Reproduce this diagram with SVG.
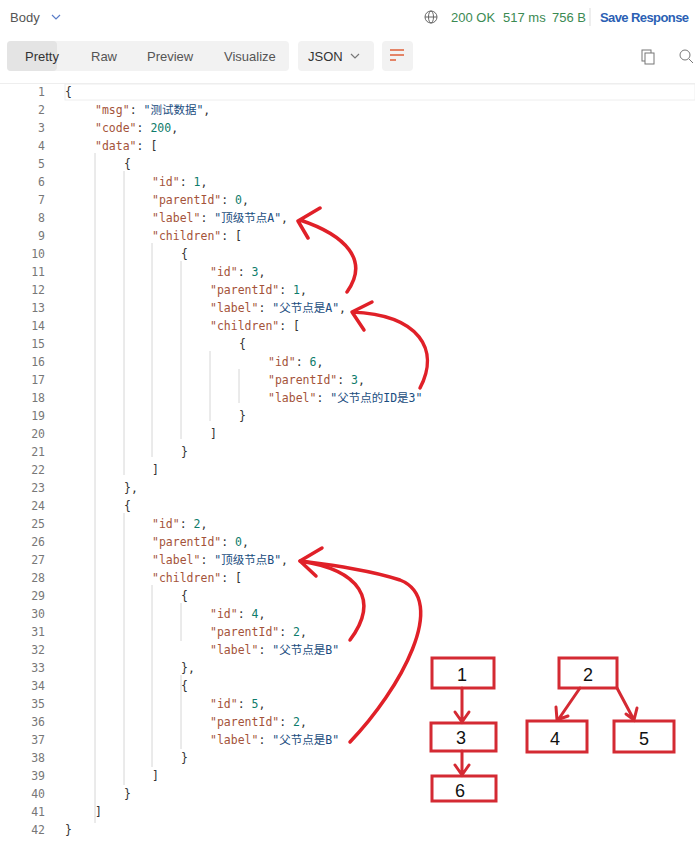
<svg xmlns="http://www.w3.org/2000/svg" width="695" height="850" viewBox="0 0 695 850">
<style>
.ui{font-family:"Liberation Sans","Noto Sans",sans-serif;font-size:13px;fill:#555}
.c{font-family:"DejaVu Sans Mono","Noto Sans CJK SC",monospace;font-size:11.5px;fill:#333}
.ln{font-family:"DejaVu Sans Mono",monospace;font-size:11.5px;fill:#777;text-anchor:end}
.k{fill:#a4533a}.s{fill:#1a4d80}.n{fill:#0e7c6b}
.g{stroke:#d6d6d6;stroke-width:1}
.box rect{fill:none;stroke:#d42a33;stroke-width:3}
.box text{font-family:"Liberation Sans",sans-serif;font-size:18px;fill:#111;text-anchor:middle}
.ar{fill:none;stroke:#e02028;stroke-width:3.5;stroke-linecap:round;stroke-linejoin:round}
.ar2{fill:none;stroke:#d42a33;stroke-width:3;stroke-linecap:round}
</style>
<rect width="695" height="850" fill="#fff"/>
<g id="toolbar">
<text class="ui" x="10" y="22" font-size="12">Body</text>
<path d="M52 15l4 4 4-4" fill="none" stroke="#5a7dc8" stroke-width="1.2"/>
<circle cx="431" cy="17" r="6" fill="none" stroke="#666"/><ellipse cx="431" cy="17" rx="2.5" ry="6" fill="none" stroke="#666"/><line x1="425" y1="17" x2="437" y2="17" stroke="#666"/>
<text class="ui" x="451" y="22" font-size="12" style="fill:#3b8a52">200 OK</text>
<text class="ui" x="503" y="22" font-size="12" style="fill:#3b8a52">517 ms</text>
<text class="ui" x="552" y="22" font-size="12" style="fill:#3b8a52">756 B</text>
<line x1="590" y1="8" x2="590" y2="26" stroke="#ddd"/>
<text class="ui" x="600" y="22" font-size="12" font-weight="bold" textLength="89" style="fill:#2b5fb4">Save Response</text>
<rect x="7" y="41" width="282" height="30" rx="4" fill="#f2f2f2"/>
<rect x="7" y="41" width="50" height="30" rx="4" fill="#e4e4e4"/>
<text class="ui" x="25" y="61" style="fill:#333">Pretty</text>
<text class="ui" x="91" y="61">Raw</text>
<text class="ui" x="147" y="61">Preview</text>
<text class="ui" x="224" y="61">Visualize</text>
<rect x="298" y="41" width="76" height="30" rx="4" fill="#f2f2f2"/>
<text class="ui" x="308" y="61" font-size="11.5" style="fill:#333">JSON</text>
<path d="M351 54l4 4 4-4" fill="none" stroke="#777" stroke-width="1.2"/>
<rect x="382" y="41" width="31" height="30" rx="4" fill="#f2f2f2"/>
<path d="M390 50h14M390 55h14M390 60h6" stroke="#e0603a" stroke-width="1.3" fill="none"/>
<rect x="642" y="50" width="9" height="11" fill="none" stroke="#777"/><rect x="645" y="53" width="9" height="11" fill="#fff" stroke="#777"/>
<circle cx="685" cy="55" r="5" fill="none" stroke="#777"/><line x1="689" y1="59" x2="693" y2="63" stroke="#777"/>
</g>
<g id="code">
<rect x="0" y="83" width="695" height="1" fill="#eee"/>
<rect x="65" y="84" width="630" height="16" fill="#fff" stroke="#eee"/>
<g class="g">
<line x1="95" y1="153" x2="95" y2="823"/>
<line x1="124" y1="171" x2="124" y2="475"/>
<line x1="124" y1="513" x2="124" y2="785"/>
<line x1="152" y1="243" x2="152" y2="457"/>
<line x1="152" y1="585" x2="152" y2="767"/>
<line x1="181" y1="261" x2="181" y2="439"/>
<line x1="210" y1="351" x2="210" y2="421"/>
<line x1="239" y1="369" x2="239" y2="403"/>
<line x1="181" y1="603" x2="181" y2="641"/>
<line x1="181" y1="675" x2="181" y2="749"/>
</g>
<g class="ln">
<text x="45" y="96">1</text><text x="45" y="114">2</text><text x="45" y="132">3</text><text x="45" y="150">4</text><text x="45" y="168">5</text><text x="45" y="186">6</text><text x="45" y="204">7</text><text x="45" y="222">8</text><text x="45" y="240">9</text><text x="45" y="258">10</text><text x="45" y="276">11</text><text x="45" y="294">12</text><text x="45" y="312">13</text><text x="45" y="330">14</text><text x="45" y="348">15</text><text x="45" y="366">16</text><text x="45" y="384">17</text><text x="45" y="402">18</text><text x="45" y="420">19</text><text x="45" y="438">20</text><text x="45" y="456">21</text><text x="45" y="474">22</text><text x="45" y="492">23</text><text x="45" y="510">24</text><text x="45" y="528">25</text><text x="45" y="546">26</text><text x="45" y="564">27</text><text x="45" y="582">28</text><text x="45" y="600">29</text><text x="45" y="618">30</text><text x="45" y="636">31</text><text x="45" y="654">32</text><text x="45" y="672">33</text><text x="45" y="690">34</text><text x="45" y="708">35</text><text x="45" y="726">36</text><text x="45" y="744">37</text><text x="45" y="762">38</text><text x="45" y="780">39</text><text x="45" y="798">40</text><text x="45" y="816">41</text><text x="45" y="834">42</text>
</g>
<g class="c">
<text x="65" y="96">{</text>
<text x="95" y="114"><tspan class="k">"msg"</tspan>: <tspan class="s">"测试数据"</tspan>,</text>
<text x="95" y="132"><tspan class="k">"code"</tspan>: <tspan class="n">200</tspan>,</text>
<text x="95" y="150"><tspan class="k">"data"</tspan>: [</text>
<text x="124" y="168">{</text>
<text x="152" y="186"><tspan class="k">"id"</tspan>: <tspan class="n">1</tspan>,</text>
<text x="152" y="204"><tspan class="k">"parentId"</tspan>: <tspan class="n">0</tspan>,</text>
<text x="152" y="222"><tspan class="k">"label"</tspan>: <tspan class="s">"顶级节点A"</tspan>,</text>
<text x="152" y="240"><tspan class="k">"children"</tspan>: [</text>
<text x="181" y="258">{</text>
<text x="210" y="276"><tspan class="k">"id"</tspan>: <tspan class="n">3</tspan>,</text>
<text x="210" y="294"><tspan class="k">"parentId"</tspan>: <tspan class="n">1</tspan>,</text>
<text x="210" y="312"><tspan class="k">"label"</tspan>: <tspan class="s">"父节点是A"</tspan>,</text>
<text x="210" y="330"><tspan class="k">"children"</tspan>: [</text>
<text x="239" y="348">{</text>
<text x="268" y="366"><tspan class="k">"id"</tspan>: <tspan class="n">6</tspan>,</text>
<text x="268" y="384"><tspan class="k">"parentId"</tspan>: <tspan class="n">3</tspan>,</text>
<text x="268" y="402"><tspan class="k">"label"</tspan>: <tspan class="s">"父节点的ID是3"</tspan></text>
<text x="239" y="420">}</text>
<text x="210" y="438">]</text>
<text x="181" y="456">}</text>
<text x="152" y="474">]</text>
<text x="124" y="492">},</text>
<text x="124" y="510">{</text>
<text x="152" y="528"><tspan class="k">"id"</tspan>: <tspan class="n">2</tspan>,</text>
<text x="152" y="546"><tspan class="k">"parentId"</tspan>: <tspan class="n">0</tspan>,</text>
<text x="152" y="564"><tspan class="k">"label"</tspan>: <tspan class="s">"顶级节点B"</tspan>,</text>
<text x="152" y="582"><tspan class="k">"children"</tspan>: [</text>
<text x="181" y="600">{</text>
<text x="210" y="618"><tspan class="k">"id"</tspan>: <tspan class="n">4</tspan>,</text>
<text x="210" y="636"><tspan class="k">"parentId"</tspan>: <tspan class="n">2</tspan>,</text>
<text x="210" y="654"><tspan class="k">"label"</tspan>: <tspan class="s">"父节点是B"</tspan></text>
<text x="181" y="672">},</text>
<text x="181" y="690">{</text>
<text x="210" y="708"><tspan class="k">"id"</tspan>: <tspan class="n">5</tspan>,</text>
<text x="210" y="726"><tspan class="k">"parentId"</tspan>: <tspan class="n">2</tspan>,</text>
<text x="210" y="744"><tspan class="k">"label"</tspan>: <tspan class="s">"父节点是B"</tspan></text>
<text x="181" y="762">}</text>
<text x="152" y="780">]</text>
<text x="124" y="798">}</text>
<text x="95" y="816">]</text>
<text x="65" y="834">}</text>
</g>
</g>
<g id="annotations">
<path class="ar" d="M347 292C370 260 345 235 300 220M320 208L298 221L308 238"/>
<path class="ar" d="M420 388C440 350 420 315 352 312M372 302L352 312L364 330"/>
<path class="ar" d="M350 640C380 600 360 570 300 561"/>
<path class="ar" d="M350 742C400 690 450 600 400 580C370 570 330 565 300 561M322 548L300 561L316 576"/>
</g>
<g id="connectors">
<path class="ar2" d="M462 688V722M455 712L462 722L469 712"/>
<path class="ar2" d="M462 751V775M455 765L462 775L469 765"/>
<path class="ar2" d="M580 688L558 720M556 707L557 720L568 716"/>
<path class="ar2" d="M617 688L634 720M626 714L634 720L637 708"/>
</g>
<g id="n1" class="box"><rect x="432" y="658" width="62" height="30"/><text x="462" y="681">1</text></g>
<g id="n3" class="box"><rect x="431" y="723" width="65" height="28"/><text x="461" y="744">3</text></g>
<g id="n6" class="box"><rect x="432" y="776" width="64" height="25"/><text x="460" y="797">6</text></g>
<g id="n2" class="box"><rect x="559" y="658" width="58" height="30"/><text x="588" y="681">2</text></g>
<g id="n4" class="box"><rect x="527" y="721" width="60" height="31"/><text x="555" y="745">4</text></g>
<g id="n5" class="box"><rect x="614" y="721" width="60" height="31"/><text x="644" y="745">5</text></g>
</svg>
